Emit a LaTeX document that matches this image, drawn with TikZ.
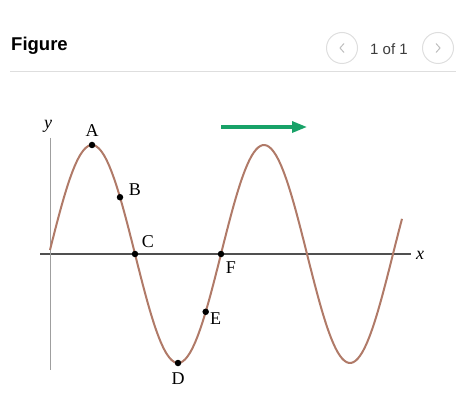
\documentclass[tikz,border=0pt]{standalone}
\usepackage{fontspec}
\setmainfont{Liberation Serif}
\newfontfamily\uifont{Liberation Sans}
\usetikzlibrary{positioning,arrows.meta}

\definecolor{wavebrown}{RGB}{176,122,104}
\definecolor{movegreen}{RGB}{24,162,104}
\definecolor{axisgray}{RGB}{80,80,80}
\definecolor{rulegray}{RGB}{222,222,222}
\definecolor{pagergray}{RGB}{60,60,60}

\tikzset{
    wave/.style={draw=wavebrown, line width=2pt},
    axisline/.style={draw=axisgray, line width=1.3pt},
    ptdot/.style={circle, fill=black, inner sep=0pt, minimum size=6.5pt},
    ptlabel/.style={font=\fontsize{18}{21}\selectfont, inner sep=0pt},
    pagerbtn/.style={circle, draw=rulegray, line width=1pt, minimum size=31pt, inner sep=0pt},
    chevron/.style={draw=gray!50, line width=1pt}
}

\begin{document}
\begin{tikzpicture}[x=1pt,y=-1pt]

    \useasboundingbox (0,0) rectangle (471,414);

    % header
    \node[anchor=base west, inner sep=0pt, font=\uifont\bfseries\fontsize{18.5}{21}\selectfont] (title) at (11,50.5) {Figure};
    \node[anchor=base, inner sep=0pt, text=pagergray, font=\uifont\fontsize{15}{18}\selectfont] (pager) at (389,55) {1 of 1};
    \node[pagerbtn] (prev) at (342,48) {};
    \node[pagerbtn] (next) at (438,48) {};
    \draw[chevron] ([shift={(2,-4.5)}]prev.center) -- ([shift={(-2,0)}]prev.center) -- ([shift={(2,4.5)}]prev.center);
    \draw[chevron] ([shift={(-2,-4.5)}]next.center) -- ([shift={(2,0)}]next.center) -- ([shift={(-2,4.5)}]next.center);
    \coordinate (ruleL) at (10,72);
    \coordinate (ruleR) at (456,72);
    \draw[draw=rulegray, line width=1pt] (ruleL) -- (ruleR);

    % axes
    \coordinate (xl) at (40,254);
    \coordinate (xr) at (411,254);
    \coordinate (yt) at (50.7,138);
    \coordinate (yb) at (50.7,370);
    \draw[axisline] (xl) -- (xr);
    \draw[axisline, draw=gray!75] (yt) -- (yb);
    \node[ptlabel, font=\itshape\fontsize{18}{21}\selectfont] (xlab) at (420,255) {x};
    \node[ptlabel, font=\itshape\fontsize{18}{21}\selectfont] (ylab) at (48,126) {y};

    % the wave, lambda = 172, amplitude = 109
    \draw[wave] plot[domain=50:402, samples=160, smooth] (\x, {254-109*cos((\x-92)/172*360)});

    % points on the wave
    \foreach \n/\px/\dx/\dy in {A/92/0/-14, B/120/15/-8, C/135/13/-12, D/178/0/16, E/205.7/10/7, F/221/10/14}
    {
        \pgfmathsetmacro\py{254-109*cos((\px-92)/172*360)}
        \node[ptdot] (\n) at (\px,\py) {};
        \node[ptlabel] (l\n) at ([shift={(\dx,\dy)}]\n.center) {\n};
    }

    % direction of travel
    \coordinate (go) at (221,127);
    \coordinate (stop) at (307,127);
    \draw[draw=movegreen, line width=3.2pt, -{Triangle[length=15pt, width=11pt]}] (go) -- (stop);

\end{tikzpicture}
\end{document}
